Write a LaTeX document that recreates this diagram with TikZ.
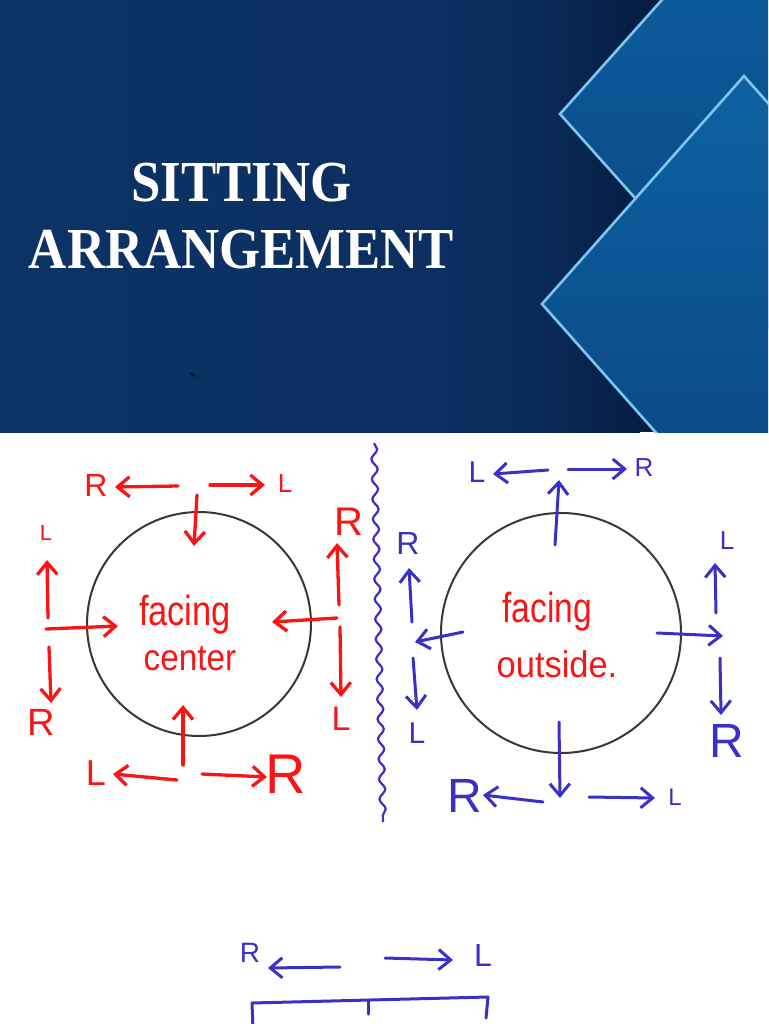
\documentclass[tikz,border=0pt]{standalone}
\usepackage{fontspec}
\setmainfont{Liberation Serif}
\newfontfamily\hand{Liberation Sans}
\usetikzlibrary{arrows.meta,decorations.pathmorphing}
\definecolor{navyL}{RGB}{13,51,102}
\definecolor{navyM}{RGB}{11,46,95}
\definecolor{navyD}{RGB}{5,30,68}
\definecolor{dmdA}{RGB}{14,98,162}
\definecolor{dmdB}{RGB}{10,68,128}
\definecolor{dmdEdge}{RGB}{125,198,240}
\definecolor{inkred}{RGB}{250,20,20}
\definecolor{inkblue}{RGB}{58,48,200}
\begin{document}
\begin{tikzpicture}[x=1pt,y=-1pt,
  ra/.style={draw=inkred, line width=3.3pt, line cap=round, line join=round, -{Straight Barb[length=12pt,width=20pt]}},
  ba/.style={draw=inkblue, line width=3pt, line cap=round, line join=round, -{Straight Barb[length=12pt,width=20pt]}},
  lab/.style={font=\hand\fontsize{#1}{#1}\selectfont, inner sep=0pt},
  rl/.style={lab=#1, text=inkred},
  bl/.style={lab=#1, text=inkblue},
  round/.style={circle, draw=black!78, line width=2pt, inner sep=0pt},
  diamondedge/.style={draw=dmdEdge, line width=2.6pt, line join=miter}
]
\useasboundingbox (0,0) rectangle (768,1024);
\fill[white] (0,0) rectangle (768,1024);
% banner
\shade[left color=navyL, right color=navyM] (0,0) rectangle (500,432);
\shade[left color=navyM, right color=navyD] (500,0) rectangle (640,432);
\fill[navyD] (640,0) rectangle (768,432);
\begin{scope}
  \clip (0,0) rectangle (768,432);
  \shade[top color=dmdA, bottom color=dmdB] (560,114) -- (760,-110) -- (960,114) -- (760,338) -- cycle;
  \draw[diamondedge] (560,114) -- (760,-110) -- (960,114) -- (760,338) -- cycle;
  \shade[top color=dmdA, bottom color=dmdB] (542,304) -- (744,76) -- (946,304) -- (744,532) -- cycle;
  \draw[diamondedge] (542,304) -- (744,76) -- (946,304) -- (744,532) -- cycle;
\end{scope}
\node[anchor=base, text=white, font=\bfseries\fontsize{58}{58}\selectfont, inner sep=0pt] (t1) at (241.5,202) {\scalebox{0.91}[1]{SITTING}};
\node[anchor=base, text=white, font=\bfseries\fontsize{58}{58}\selectfont, inner sep=0pt] (t2) at (241.5,268) {\scalebox{0.91}[1]{ARRANGEMENT}};
\node[text=black, font=\fontsize{24}{24}\selectfont, inner sep=0pt] (tick) at (193,382) {\textasciigrave};

% circles
\node[round, minimum size=224pt] (c1) at (199,624) {};
\node[round, minimum size=240pt] (c2) at (561,633) {};
\node[anchor=base, rl=42] (fc1) at (185,625) {\scalebox{0.82}[1]{facing}};
\node[anchor=base, rl=37] (ct1) at (190,670) {\scalebox{0.9}[1]{center}};
\node[anchor=base, rl=42] (fc2) at (547,622) {\scalebox{0.8}[1]{facing}};
\node[anchor=base, rl=37] (os2) at (557,677) {\scalebox{0.93}[1]{outside.}};

% wavy divider
\coordinate (w1) at (374,443);
\coordinate (w2) at (383,822);
\draw[inkblue, line width=2.2pt, decorate, decoration={snake, amplitude=3pt, segment length=20pt}] (w1) -- (w2);

% red arrows (facing center)
\coordinate (rT1s) at (178,486); \coordinate (rT1e) at (115,487);
\coordinate (rT2s) at (210,485); \coordinate (rT2e) at (265,485);
\coordinate (rT3s) at (197,495); \coordinate (rT3e) at (194,546);
\coordinate (rL1s) at (48,618);  \coordinate (rL1e) at (47,560);
\coordinate (rL2s) at (46,629);  \coordinate (rL2e) at (118,626);
\coordinate (rL3s) at (49,647);  \coordinate (rL3e) at (51,703);
\coordinate (rR1s) at (339,605); \coordinate (rR1e) at (337,543);
\coordinate (rR2s) at (337,618); \coordinate (rR2e) at (272,622);
\coordinate (rR3s) at (340,627); \coordinate (rR3e) at (341,697);
\coordinate (rB1s) at (183,765); \coordinate (rB1e) at (183,705);
\coordinate (rB2s) at (177,780); \coordinate (rB2e) at (113,774);
\coordinate (rB3s) at (202,774); \coordinate (rB3e) at (267,777);
\foreach \a in {rT1,rT2,rT3,rL1,rL2,rL3,rR1,rR2,rR3,rB1,rB2,rB3}
  \draw[ra] (\a s) -- (\a e);

\node[rl=32] (rRa) at (96,485) {R};
\node[rl=26] (rLa) at (285,484) {L};
\node[rl=22] (rLb) at (46,533) {L};
\node[rl=38] (rRb) at (41,722) {R};
\node[rl=40] (rRc) at (349,522) {R};
\node[rl=34] (rLc) at (341,719) {L};
\node[rl=36] (rLd) at (96,773) {L};
\node[rl=56] (rRd) at (286,774) {R};

% blue arrows (facing outside)
\coordinate (bT1s) at (548,470); \coordinate (bT1e) at (493,474);
\coordinate (bT2s) at (568,469); \coordinate (bT2e) at (627,469);
\coordinate (bT3s) at (555,545); \coordinate (bT3e) at (559,480);
\coordinate (bL1s) at (412,622); \coordinate (bL1e) at (409,568);
\coordinate (bL2s) at (463,632); \coordinate (bL2e) at (415,642);
\coordinate (bL3s) at (413,658); \coordinate (bL3e) at (417,710);
\coordinate (bR1s) at (716,613); \coordinate (bR1e) at (715,563);
\coordinate (bR2s) at (657,633); \coordinate (bR2e) at (723,636);
\coordinate (bR3s) at (720,658); \coordinate (bR3e) at (721,715);
\coordinate (bB1s) at (559,722); \coordinate (bB1e) at (560,798);
\coordinate (bB2s) at (543,802); \coordinate (bB2e) at (483,795);
\coordinate (bB3s) at (589,797); \coordinate (bB3e) at (655,798);
\foreach \a in {bT1,bT2,bT3,bL1,bL2,bL3,bR1,bR2,bR3,bB1,bB2,bB3}
  \draw[ba] (\a s) -- (\a e);

\node[bl=30] (bLa) at (477,472) {L};
\node[bl=26] (bRa) at (644,468) {R};
\node[bl=32] (bRb) at (408,543) {R};
\node[bl=30] (bLb) at (417,733) {L};
\node[bl=26] (bLc) at (727,541) {L};
\node[bl=48] (bRc) at (727,741) {R};
\node[bl=48] (bRd) at (465,796) {R};
\node[bl=24] (bLd) at (675,797) {L};

% bottom linear sketch
\coordinate (cA1s) at (340,967); \coordinate (cA1e) at (268,968);
\coordinate (cA2s) at (385,958); \coordinate (cA2e) at (453,960);
\draw[ba] (cA1s) -- (cA1e);
\draw[ba] (cA2s) -- (cA2e);
\node[bl=28] (cR) at (250,953) {R};
\node[bl=32] (cL) at (483,955) {L};
\coordinate (bar1) at (252,1003);
\coordinate (bar2) at (488,997);
\coordinate (tk1) at (253,1030);
\coordinate (tm0) at (368,1000);
\coordinate (tm1) at (368,1014);
\coordinate (tk2) at (486,1018);
\draw[inkblue, line width=3pt, line cap=round, line join=round] (tk1) -- (bar1) -- (bar2) -- (tk2);
\draw[inkblue, line width=3pt, line cap=round] (tm0) -- (tm1);
\end{tikzpicture}
\end{document}
